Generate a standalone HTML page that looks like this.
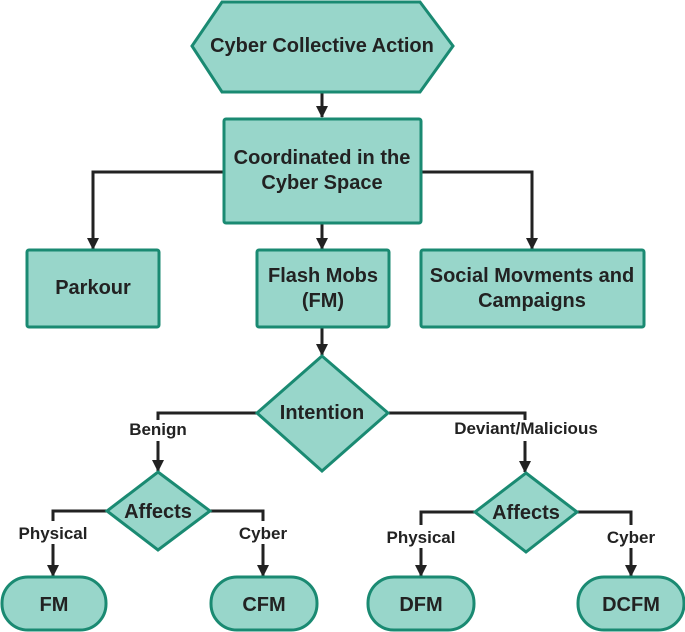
<!DOCTYPE html>
<html><head><meta charset="utf-8"><style>
html,body{margin:0;padding:0;background:#fff;}
svg{display:block;}
text{font-family:"Liberation Sans",Arial,sans-serif;font-weight:bold;fill:#222;text-anchor:middle;}
.s{fill:#98d6ca;stroke:#1a8a72;stroke-width:3;}
.l{fill:none;stroke:#222;stroke-width:3;}
</style></head><body>
<svg width="685" height="632" viewBox="0 0 685 632" xmlns="http://www.w3.org/2000/svg">
<g class="l">
<path d="M322 92 V117"/>
<path d="M224 172 H93 V249"/>
<path d="M421 172 H532 V249"/>
<path d="M322 223 V249"/>
<path d="M322 327 V355"/>
<path d="M257 413 H158 V420"/><path d="M158 441 V471"/>
<path d="M389 413 H525 V420"/><path d="M525 441 V472"/>
<path d="M107 511 H53 V521"/><path d="M53 544 V576"/>
<path d="M210 511 H263 V521"/><path d="M263 544 V576"/>
<path d="M475 512 H421 V525"/><path d="M421 548 V576"/>
<path d="M577 512 H631 V525"/><path d="M631 548 V576"/>
</g>
<g fill="#222">
<path d="M316 106 L328 106 L322 118 z"/>
<path d="M87 238 L99 238 L93 250 z"/>
<path d="M526 238 L538 238 L532 250 z"/>
<path d="M316 238 L328 238 L322 250 z"/>
<path d="M316 344 L328 344 L322 356 z"/>
<path d="M152 460 L164 460 L158 472 z"/>
<path d="M519 461 L531 461 L525 473 z"/>
<path d="M47 565 L59 565 L53 577 z"/>
<path d="M257 565 L269 565 L263 577 z"/>
<path d="M415 565 L427 565 L421 577 z"/>
<path d="M625 565 L637 565 L631 577 z"/>
</g>
<polygon class="s" points="222,2 420,2 453,46 420,92 222,92 192,46"/>
<rect class="s" x="224" y="119" width="197" height="104" rx="2"/>
<rect class="s" x="27" y="250" width="132" height="77" rx="2"/>
<rect class="s" x="257" y="250" width="132" height="77" rx="2"/>
<rect class="s" x="421" y="250" width="223" height="77" rx="2"/>
<polygon class="s" points="322,356 388,413 322,471 257,413"/>
<polygon class="s" points="158,472 210,511 158,550 107,511"/>
<polygon class="s" points="526,473 577,512 526,552 475,512"/>
<rect class="s" x="2" y="577" width="104" height="53" rx="26"/>
<rect class="s" x="211" y="577" width="106" height="53" rx="26"/>
<rect class="s" x="368" y="577" width="106" height="53" rx="26"/>
<rect class="s" x="578" y="577" width="106" height="53" rx="26"/>
<text x="322" y="52" font-size="20">Cyber Collective Action</text>
<text x="322" y="164" font-size="20">Coordinated in the</text>
<text x="322" y="189" font-size="20">Cyber Space</text>
<text x="93" y="294" font-size="20">Parkour</text>
<text x="323" y="282" font-size="20">Flash Mobs</text>
<text x="323" y="307" font-size="20">(FM)</text>
<text x="532" y="282" font-size="20">Social Movments and</text>
<text x="532" y="307" font-size="20">Campaigns</text>
<text x="322" y="419" font-size="20">Intention</text>
<text x="158" y="518" font-size="20">Affects</text>
<text x="526" y="519" font-size="20">Affects</text>
<text x="158" y="435" font-size="17">Benign</text>
<text x="526" y="434" font-size="17">Deviant/Malicious</text>
<text x="53" y="539" font-size="17">Physical</text>
<text x="263" y="539" font-size="17">Cyber</text>
<text x="421" y="543" font-size="17">Physical</text>
<text x="631" y="543" font-size="17">Cyber</text>
<text x="54" y="611" font-size="20">FM</text>
<text x="264" y="611" font-size="20">CFM</text>
<text x="421" y="611" font-size="20">DFM</text>
<text x="631" y="611" font-size="20">DCFM</text>
</svg>
</body></html>
